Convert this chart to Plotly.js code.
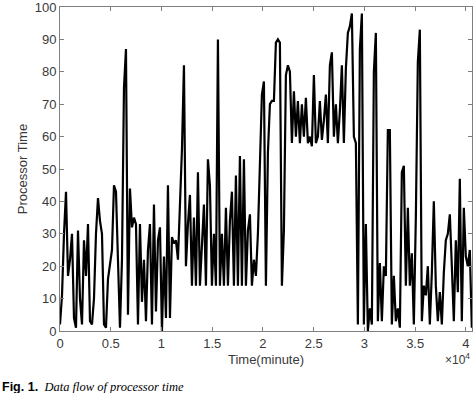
<!DOCTYPE html>
<html>
<head>
<meta charset="utf-8">
<script src="https://cdn.plot.ly/plotly-3.0.1.min.js"></script>
<style>html,body{margin:0;padding:0;background:#fff;}#chart{width:474px;height:393px;}</style>
</head>
<body>
<div id="chart"></div>
<script>
// Sampling interval of the series (minutes)
const sampleStep = 197;
// Processor time values, one per sample
const processorTime = [
  2, 11, 30, 43, 17, 22, 30, 4, 1, 31, 10, 2, 28, 17, 33, 3, 2, 10, 30, 41,
  34, 30, 2, 1, 16, 20, 25, 45, 43, 22, 1, 22, 75, 87, 5, 44, 32, 35, 33, 2,
  33, 9, 22, 3, 25, 33, 2, 39, 6, 28, 32, 0, 23, 4, 45, 4, 29, 27, 28, 22,
  40, 56, 82, 20, 33, 42, 14, 35, 14, 49, 14, 26, 39, 14, 53, 45, 14, 30, 14, 90,
  14, 30, 14, 38, 14, 34, 43, 14, 48, 14, 54, 14, 53, 14, 31, 36, 14, 22, 17, 30,
  54, 73, 77, 14, 55, 70, 71, 71, 89, 90, 89, 14, 31, 79, 82, 80, 58, 74, 60, 71,
  58, 70, 60, 72, 58, 60, 57, 79, 58, 60, 71, 59, 65, 73, 58, 82, 86, 60, 70, 58,
  68, 82, 58, 81, 92, 94, 98, 60, 58, 2, 87, 98, 2, 33, 0, 7, 2, 80, 92, 3,
  21, 3, 20, 17, 62, 62, 2, 17, 3, 7, 1, 49, 51, 14, 38, 14, 24, 2, 35, 83,
  93, 3, 14, 11, 20, 2, 18, 40, 14, 3, 12, 2, 18, 28, 30, 36, 20, 3, 28, 12,
  47, 3, 38, 23, 20, 25, 1
];
const timeMinutes = processorTime.map((_, i) => i * sampleStep);

const xTickVals = [0, 5000, 10000, 15000, 20000, 25000, 30000, 35000, 40000];
const xTickText = ['0', '0.5', '1', '1.5', '2', '2.5', '3', '3.5', '4'];
const yTickVals = [0, 10, 20, 30, 40, 50, 60, 70, 80, 90, 100];

const axisColor = '#7f7f7f';
const textColor = '#3a3a3a';

const trace = {
  x: timeMinutes,
  y: processorTime,
  type: 'scatter',
  mode: 'lines',
  line: {color: '#000000', width: 2.2},
  hoverinfo: 'skip'
};

const layout = {
  width: 474,
  height: 393,
  margin: {l: 60, r: 2, t: 7, b: 62},
  paper_bgcolor: '#ffffff',
  plot_bgcolor: '#ffffff',
  showlegend: false,
  font: {family: 'Liberation Sans, Arial, sans-serif', size: 13, color: textColor},
  xaxis: {
    range: [0, 40600],
    tickvals: xTickVals,
    ticktext: xTickText,
    ticks: 'inside',
    ticklen: 4,
    tickcolor: axisColor,
    showline: true,
    linecolor: axisColor,
    linewidth: 1,
    mirror: 'ticks',
    showgrid: false,
    zeroline: false,
    ticklabeloverflow: 'allow',
    tickfont: {size: 13, color: textColor},
    title: {text: 'Time(minute)', font: {size: 13, color: textColor}, standoff: 5}
  },
  yaxis: {
    range: [0, 100],
    tickvals: yTickVals,
    ticks: 'inside',
    ticklen: 4,
    tickcolor: axisColor,
    showline: true,
    linecolor: axisColor,
    linewidth: 1,
    mirror: 'ticks',
    showgrid: false,
    zeroline: false,
    ticklabeloverflow: 'allow',
    tickfont: {size: 13, color: textColor},
    title: {text: 'Processor Time', font: {size: 13, color: textColor}, standoff: 4}
  },
  annotations: [
    {
      xref: 'paper', yref: 'paper', x: 1, y: 0, xanchor: 'right', yanchor: 'top',
      yshift: -18, xshift: 0, showarrow: false,
      text: '\u00d710<sup>4</sup>', font: {size: 12, color: textColor}
    },
    {
      xref: 'paper', yref: 'paper', x: 0, y: 0, xanchor: 'left', yanchor: 'top',
      xshift: -60, yshift: -47, showarrow: false, align: 'left',
      text: '<span style="font-family:Liberation Sans, Arial, sans-serif"><b>Fig. 1.</b></span>  <i>Data flow of processor time</i>',
      font: {family: 'Liberation Serif, Times New Roman, serif', size: 12.5, color: '#000'}
    }
  ]
};

Plotly.newPlot('chart', [trace], layout, {staticPlot: true, displayModeBar: false});
</script>
</body>
</html>
